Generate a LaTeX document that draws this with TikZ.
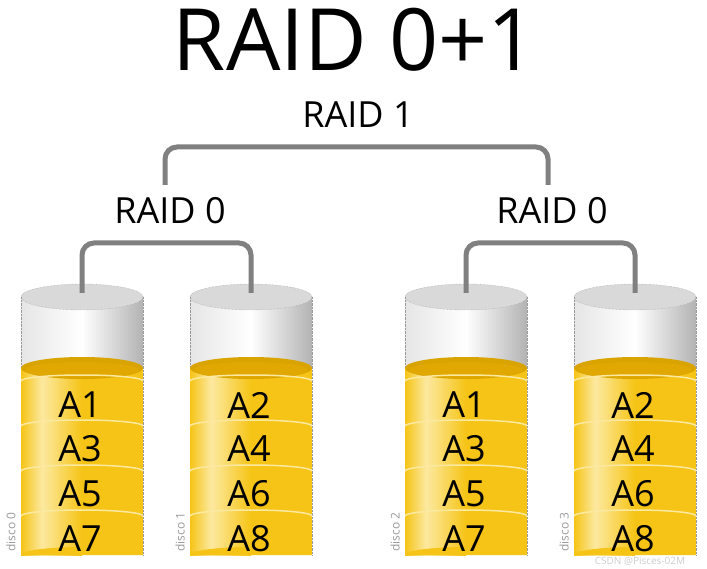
\documentclass[tikz,border=0pt]{standalone}
\usepackage{fontspec}
\setmainfont{Open Sans}
\definecolor{gold}{HTML}{F6C416}
\definecolor{golddark}{HTML}{E0A800}
\definecolor{goldtop}{HTML}{D9A300}
\definecolor{goldlight}{HTML}{FCE9A0}
\begin{document}
\begin{tikzpicture}[x=1pt,y=-1pt,
  brk/.style={draw=black!50,line width=5pt,rounded corners=12pt},
  lbl/.style={font=\fontsize{36}{36}\selectfont},
  disc/.style={font=\fontsize{12}{12}\selectfont,text=black!40,rotate=90}]
\useasboundingbox (0,0) rectangle (707,569);
\node (title) at (355,40) {\fontsize{86}{86}\selectfont RAID 0+1};
\node (r1) at (358,115) {\fontsize{36}{36}\selectfont RAID 1};
\node (r0a) at (170,211) {\fontsize{36}{36}\selectfont RAID 0};
\node (r0b) at (552,211) {\fontsize{36}{36}\selectfont RAID 0};
\foreach \cx/\n/\a/\b/\c/\d in {82/0/1/3/5/7, 251/1/2/4/6/8, 466/2/1/3/5/7, 635/3/2/4/6/8}{
  \fill[left color=black!10,right color=black!30,middle color=white] (\cx-61,297) rectangle (\cx+61,368);
  \fill[black!15] (\cx,297) ellipse (61 and 13);
  \draw[black!40,densely dotted] (\cx,297) ellipse (61 and 13);
  \draw[black!40,densely dotted] (\cx-61,297) -- (\cx-61,555) (\cx+61,297) -- (\cx+61,555);
  \fill[left color=gold,right color=goldlight] (\cx-61,368) rectangle (\cx-40,555);
  \fill[left color=goldlight,right color=gold] (\cx-40,368) rectangle (\cx,555);
  \fill[gold] (\cx,368) rectangle (\cx+61,555);
  \fill[gold] (\cx-61,555) arc (180:360:61 and 8) -- cycle;
  \fill[goldtop] (\cx,368) ellipse (61 and 11);
  \fill[golddark] (\cx,370) ellipse (57 and 8);
  \foreach \y in {381,426,471,516}
    \draw[goldlight,line width=1.5pt] (\cx-61,\y) arc (180:360:61 and 6);
  \node[lbl] (A\a\n) at (\cx-2,405) {A\a};
  \node[lbl] (A\b\n) at (\cx-2,449) {A\b};
  \node[lbl] (A\c\n) at (\cx-2,494) {A\c};
  \node[lbl] (A\d\n) at (\cx-2,539) {A\d};
  \node[disc] (d\n) at (\cx-71,532) {disco \n};
}
\coordinate (p0) at (82,293); \coordinate (p1) at (251,293);
\coordinate (p2) at (466,293); \coordinate (p3) at (635,293);
\coordinate (q0) at (165,185); \coordinate (q1) at (548,185);
\draw[brk] (p0) |- (166,243) -| (p1);
\draw[brk] (p2) |- (550,243) -| (p3);
\draw[brk] (q0) |- (356,147) -| (q1);
\node[font=\fontsize{10}{10}\selectfont,text=black!20,inner sep=0pt] (wm) at (640,561) {CSDN @Pisces-02M};
\end{tikzpicture}
\end{document}
